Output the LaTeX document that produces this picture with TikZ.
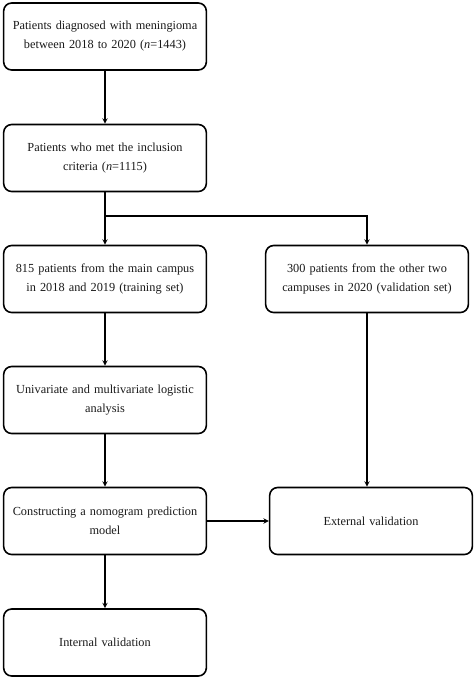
\documentclass[tikz,border=0pt]{standalone}
\usepackage{fontspec}
\setmainfont{Liberation Serif}
\usetikzlibrary{calc}
\tikzset{>=stealth}
\tikzset{flowbox/.style={draw,line width=1.6pt,rounded corners=8pt,minimum width=202pt,minimum height=67pt,text width=196pt,align=center,font=\fontsize{12.3}{19}\selectfont,text=black!90}}

\begin{document}
\begin{tikzpicture}[x=1pt,y=-1pt]
      \useasboundingbox (0,0) rectangle (474,678);

      % left column
      \node[flowbox] at (105,36.5) (diag) {Patients diagnosed with meningioma\\between 2018 to 2020 (\textit{n}=1443)};
      \node[flowbox] at (105,158) (incl) {Patients who met the inclusion\\criteria (\textit{n}=1115)};
      \node[flowbox] at (105,279) (train) {815 patients from the main campus\\in 2018 and 2019 (training set)};
      \node[flowbox] at (105,400) (logit) {Univariate and multivariate logistic\\analysis};
      \node[flowbox] at (105,521) (nomo) {Constructing a nomogram prediction\\model};
      \node[flowbox] at (105,642.5) (intval) {Internal validation};

      % right column
      \node[flowbox] at (367,279) (valid) {300 patients from the other two\\campuses in 2020 (validation set)};
      \node[flowbox] at (371,521) (extval) {External validation};

      \coordinate (split) at (105,216);

      \draw[->,line width=1.4pt] (diag)--(incl);
      \draw[->,line width=1.4pt] (incl)--(train);
      \draw[->,line width=1.4pt] (split)-|(valid.north);
      \draw[->,line width=1.4pt] (train)--(logit);
      \draw[->,line width=1.4pt] (logit)--(nomo);
      \draw[->,line width=1.4pt] (nomo)--(intval);
      \draw[->,line width=1.4pt] (nomo)--(extval);
      \draw[->,line width=1.4pt] (valid.south)--(valid.south|-extval.north);

\end{tikzpicture}
\end{document}
